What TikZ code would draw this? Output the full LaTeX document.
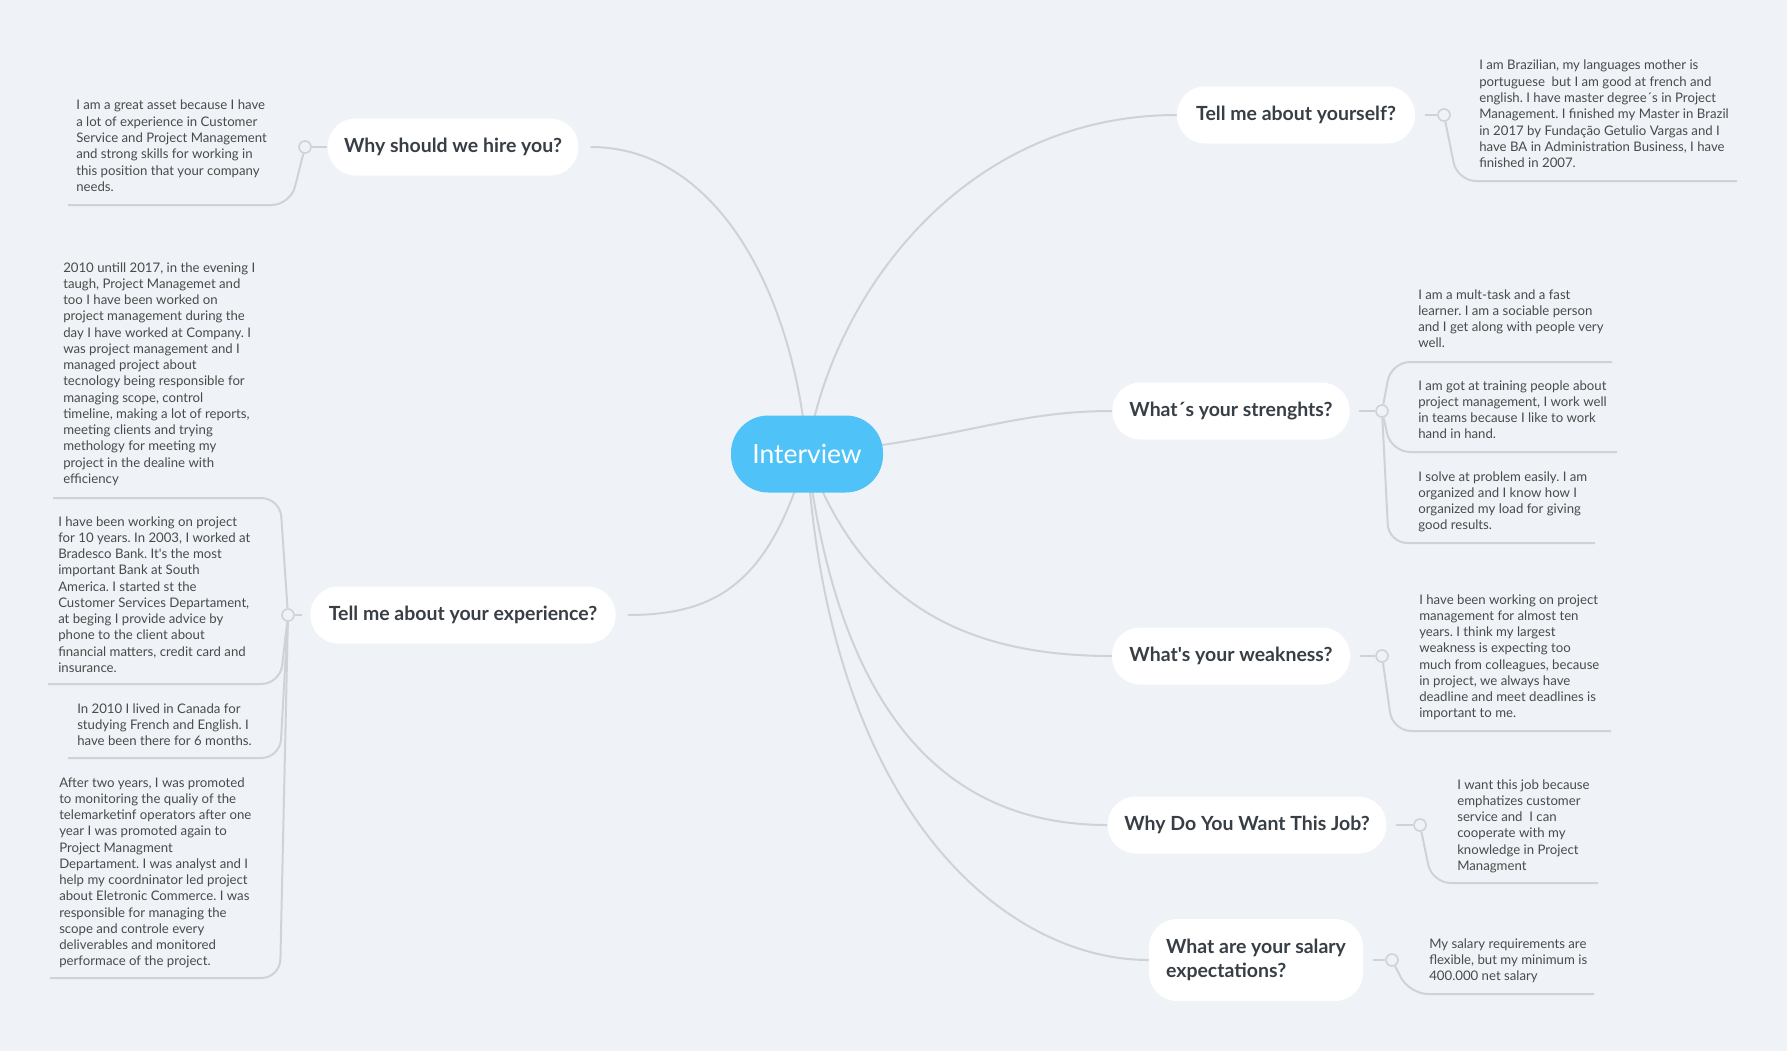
\documentclass[tikz,border=0pt]{standalone}
\usepackage{fontspec}
\setmainfont{Lato}
\usetikzlibrary{positioning}
\definecolor{bgcol}{RGB}{239,243,247}
\definecolor{linecol}{RGB}{207,211,216}
\definecolor{headcol}{RGB}{55,62,69}
\definecolor{leafcol}{RGB}{74,74,74}
\definecolor{rootcol}{RGB}{79,195,247}
\pgfdeclarelayer{bg}
\pgfdeclarelayer{lines}
\pgfsetlayers{bg,lines,main}
\frenchspacing

\begin{document}
\begin{tikzpicture}[
        x=0.75pt, y=-0.75pt,
        root/.style={rectangle, rounded corners=28pt, fill=rootcol, text=white, minimum width=114pt, minimum height=57.75pt, inner sep=0pt, font=\fontsize{19.8}{23}\selectfont},
        topic/.style={rectangle, rounded corners=21pt, fill=white, text=headcol, minimum height=42.75pt, inner sep=0pt, align=center, font=\fontsize{14.6}{17.5}\selectfont\bfseries},
        leaf/.style={anchor=north west, inner sep=0pt, align=left, text=leafcol, font=\fontsize{9.9}{12.2}\selectfont},
        knob/.style={circle, draw=linecol, line width=1.2pt, fill=bgcol, minimum size=9pt, inner sep=0pt},
        link/.style={draw=linecol, line width=1.5pt},
        branch/.style={draw=linecol, line width=1.5pt, rounded corners=14pt}
    ]
        \begin{pgfonlayer}{bg}
            \fill[bgcol] (0,0) rectangle (1787,1051);
        \end{pgfonlayer}
        \useasboundingbox (0,0) rectangle (1787,1051);

        % Nodes
        \node[root] (root) at (807,454) {Interview};
        \node[topic, minimum width=188pt] (hire) at (453,147) {Why should we hire you?};
        \node[topic, minimum width=229pt] (experience) at (463,615) {Tell me about your experience?};
        \node[topic, minimum width=178.5pt] (yourself) at (1296,115) {Tell me about yourself?};
        \node[topic, minimum width=178pt] (strengths) at (1231,411) {What´s your strenghts?};
        \node[topic, minimum width=178.5pt] (weakness) at (1231,656) {What\textquotesingle s your weakness?};
        \node[topic, minimum width=209pt] (job) at (1247,825) {Why Do You Want This Job?};
        \node[topic, minimum width=160.5pt, minimum height=61.5pt, align=left] (salary) at (1256,960) {What are your salary\\expectations?};

        % Knobs
        \node[knob] (hireK) at (305,147) {};
        \node[knob] (expK) at (288,615) {};
        \node[knob] (selfK) at (1444,115) {};
        \node[knob] (strK) at (1382,411) {};
        \node[knob] (weakK) at (1382,656) {};
        \node[knob] (jobK) at (1420,825) {};
        \node[knob] (salK) at (1392,960) {};

        % Leaves
        \node[leaf] (hireA) at (76,100) {I am a great asset because I have\\a lot of experience in Customer\\Service and Project Management\\and strong skills for working in\\this position that your company\\needs.};
        \node[leaf] (selfA) at (1479,60) {I am Brazilian, my languages mother is\\portuguese\ \ but I am good at french and\\english. I have master degree´s in Project\\Management. I finished my Master in Brazil\\in 2017 by Fundação Getulio Vargas and I\\have BA in Administration Business, I have\\finished in 2007.};
        \node[leaf] (expA) at (63,262) {2010 untill 2017, in the evening I\\taugh, Project Managemet and\\too I have been worked on\\project management during the\\day I have worked at Company. I\\was project management and I\\managed project about\\tecnology being responsible for\\managing scope, control\\timeline, making a lot of reports,\\meeting clients and trying\\methology for meeting my\\project in the dealine with\\efficiency};
        \node[leaf] (expB) at (58,516) {I have been working on project\\for 10 years. In 2003, I worked at\\Bradesco Bank. It\textquotesingle s the most\\important Bank at South\\America. I started st the\\Customer Services Departament,\\at beging I provide advice by\\phone to the client about\\financial matters, credit card and\\insurance.};
        \node[leaf] (expC) at (77,703) {In 2010 I lived in Canada for\\studying French and English. I\\have been there for 6 months.};
        \node[leaf] (expD) at (59,777) {After two years, I was promoted\\to monitoring the qualiy of the\\telemarketinf operators after one\\year I was promoted again to\\Project Managment\\Departament. I was analyst and I\\help my coordninator led project\\about Eletronic Commerce. I was\\responsible for managing the\\scope and controle every\\deliverables and monitored\\performace of the project.};
        \node[leaf] (strA) at (1418,289) {I am a mult-task and a fast\\learner. I am a sociable person\\and I get along with people very\\well.};
        \node[leaf] (strB) at (1418,380) {I am got at training people about\\project management, I work well\\in teams because I like to work\\hand in hand.};
        \node[leaf] (strC) at (1418,471) {I solve at problem easily. I am\\organized and I know how I\\organized my load for giving\\good results.};
        \node[leaf] (weakA) at (1419,594) {I have been working on project\\management for almost ten\\years. I think my largest\\weakness is expecting too\\much from colleagues, because\\in project, we always have\\deadline and meet deadlines is\\important to me.};
        \node[leaf] (jobA) at (1457,779) {I want this job because\\emphatizes customer\\service and\ \ I can\\cooperate with my\\knowledge in Project\\Managment};
        \node[leaf] (salA) at (1429,938) {My salary requirements are\\flexible, but my minimum is\\400.000 net salary};

        % Underline ends
        \coordinate (hireE) at (68,205);
        \coordinate (selfE) at (1737,181);
        \coordinate (expAE) at (53,498);
        \coordinate (expBE) at (48,684);
        \coordinate (expCE) at (68,758);
        \coordinate (expDE) at (50,978);
        \coordinate (strAE) at (1612,362);
        \coordinate (strBE) at (1617,452);
        \coordinate (strCE) at (1595,543);
        \coordinate (weakE) at (1611,731);
        \coordinate (jobE) at (1598,883);
        \coordinate (salE) at (1594,994);

        % Connectors
        \begin{pgfonlayer}{lines}
            \draw[link] (root.center) .. controls (795,300) and (720,147) .. ([xshift=9pt]hire.east);
            \draw[link] (root.center) .. controls (770,580) and (720,615) .. ([xshift=9pt]experience.east);
            \draw[link] (root.center) .. controls (830,300) and (960,115) .. (yourself.west);
            \draw[link] (root.center) .. controls (960,440) and (1010,411) .. (strengths.west);
            \draw[link] (root.center) .. controls (860,600) and (960,656) .. (weakness.west);
            \draw[link] (root.center) .. controls (840,720) and (950,825) .. (job.west);
            \draw[link] (root.center) .. controls (830,820) and (1010,960) .. (salary.west);

            \draw[link] (hire.west) -- (hireK);
            \draw[link] (expK) -- ([xshift=-6pt]experience.west);
            \draw[link] ([xshift=7pt]yourself.east) -- (selfK);
            \draw[link] ([xshift=7pt]strengths.east) -- (strK);
            \draw[link] ([xshift=7pt]weakness.east) -- (weakK);
            \draw[link] ([xshift=7pt]job.east) -- (jobK);
            \draw[link] ([xshift=7pt]salary.east) -- (salK);

            \draw[branch] (hireK) -- ([xshift=-11pt]hireK |- hireE) -- (hireE);
            \draw[branch] (selfK) -- ([xshift=10pt]selfK |- selfE) -- (selfE);
            \draw[branch] (expK) -- ([xshift=-6pt]expK |- expAE) -- (expAE);
            \draw[branch] (expK) -- ([xshift=-6pt]expK |- expBE) -- (expBE);
            \draw[branch] (expK) -- ([xshift=-6pt]expK |- expCE) -- (expCE);
            \draw[branch] (expK) -- ([xshift=-6pt]expK |- expDE) -- (expDE);
            \draw[branch] (strK) -- ([xshift=7pt]strK |- strAE) -- (strAE);
            \draw[branch] (strK) -- ([xshift=7pt]strK |- strBE) -- (strBE);
            \draw[branch] (strK) -- ([xshift=5pt]strK |- strCE) -- (strCE);
            \draw[branch] (weakK) -- ([xshift=8pt]weakK |- weakE) -- (weakE);
            \draw[branch] (jobK) -- ([xshift=9pt]jobK |- jobE) -- (jobE);
            \draw[branch] (salK) -- ([xshift=13pt]salK |- salE) -- (salE);
        \end{pgfonlayer}

    \end{tikzpicture}
\end{document}
